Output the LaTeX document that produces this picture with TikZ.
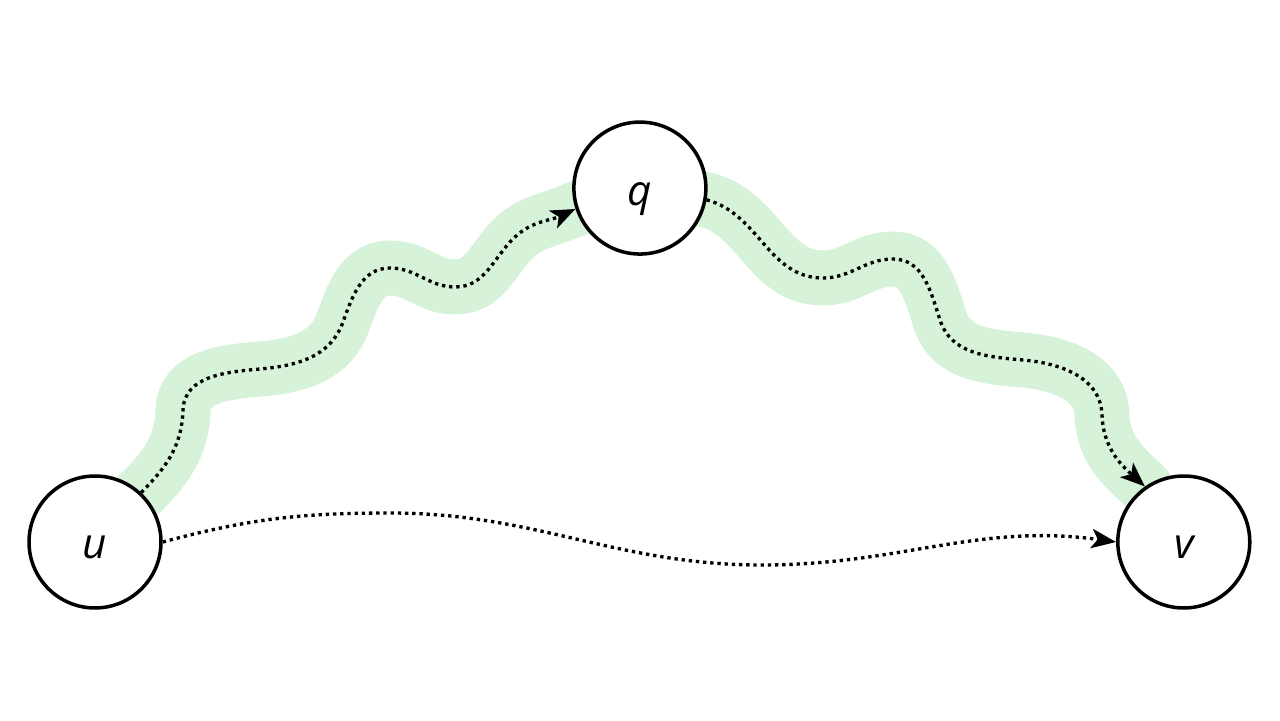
\documentclass[tikz,border=0pt]{standalone}
\usepackage{fontspec}
\setsansfont{Open Sans}
\usetikzlibrary{arrows.meta,automata,positioning,backgrounds}
\definecolor{walkgreen}{RGB}{214,242,217}

\begin{document}
\begin{tikzpicture}[x=0.02cm,y=0.02cm,>={Stealth[length=14pt,width=11pt,inset=3.5pt]},on grid,
	every state/.style={circle,draw,fill=white,line width=2pt,minimum size=2.64cm,inner sep=0pt,text height=0.68cm,text depth=0cm,font=\sffamily\itshape\fontsize{24}{28}\selectfont},
	walk/.style={->,line width=1.9pt,dash pattern=on 1.9pt off 2.2pt},
	glow/.style={walkgreen,line width=1.1cm,line cap=round,line join=round}]
	\useasboundingbox (0,0) rectangle (1280,720);

	\node[state] (u) at (95,178) {u};
	\node[state] (q) [above right=7.08cm and 10.9cm of u] {q};
	\node[state] (v) [right=21.78cm of u] {v};

	% bends of the walk u -> q
	\coordinate (a1) at (183,310);
	\coordinate (a2) at (260,351);
	\coordinate (a3) at (343,398);
	\coordinate (a4) at (390,452);
	\coordinate (a5) at (455,433);
	\coordinate (a6) at (510,478);
	% bends of the walk q -> v
	\coordinate (b1) at (823,442);
	\coordinate (b2) at (893,461);
	\coordinate (b3) at (940,400);
	\coordinate (b4) at (1023,360);
	\coordinate (b5) at (1102,305);
	% bends of the direct walk u -> v
	\coordinate (c1) at (390,207);
	\coordinate (c2) at (762,155);

	\begin{scope}[on background layer]
	\draw[glow] (u.center) -- (u.47) to[out=45,in=-92] (a1) to[out=88,in=185] (a2)
		to[out=5,in=-110] (a3) to[out=70,in=180] (a4) to[out=0,in=180] (a5)
		to[out=0,in=-132] (a6) to[out=48,in=205] (q.198) -- (q.center);
	\draw[glow] (q.center) -- (q.-10) to[out=-15,in=180] (b1) to[out=0,in=180] (b2)
		to[out=0,in=108] (b3) to[out=-72,in=175] (b4) to[out=-5,in=92] (b5)
		to[out=-88,in=138] (v.125) -- (v.center);
	\end{scope}

	\draw[walk] (u.47) to[out=45,in=-92] (a1) to[out=88,in=185] (a2)
		to[out=5,in=-110] (a3) to[out=70,in=180] (a4) to[out=0,in=180] (a5)
		to[out=0,in=-132] (a6) to[out=48,in=205] (q.198);
	\draw[walk] (q.-10) to[out=-15,in=180] (b1) to[out=0,in=180] (b2)
		to[out=0,in=108] (b3) to[out=-72,in=175] (b4) to[out=-5,in=92] (b5)
		to[out=-88,in=138] (v.125);
	\draw[walk] (u.east) to[out=15,in=180] (c1) to[out=0,in=180] (c2)
		to[out=0,in=172] (v.west);
\end{tikzpicture}
\end{document}
